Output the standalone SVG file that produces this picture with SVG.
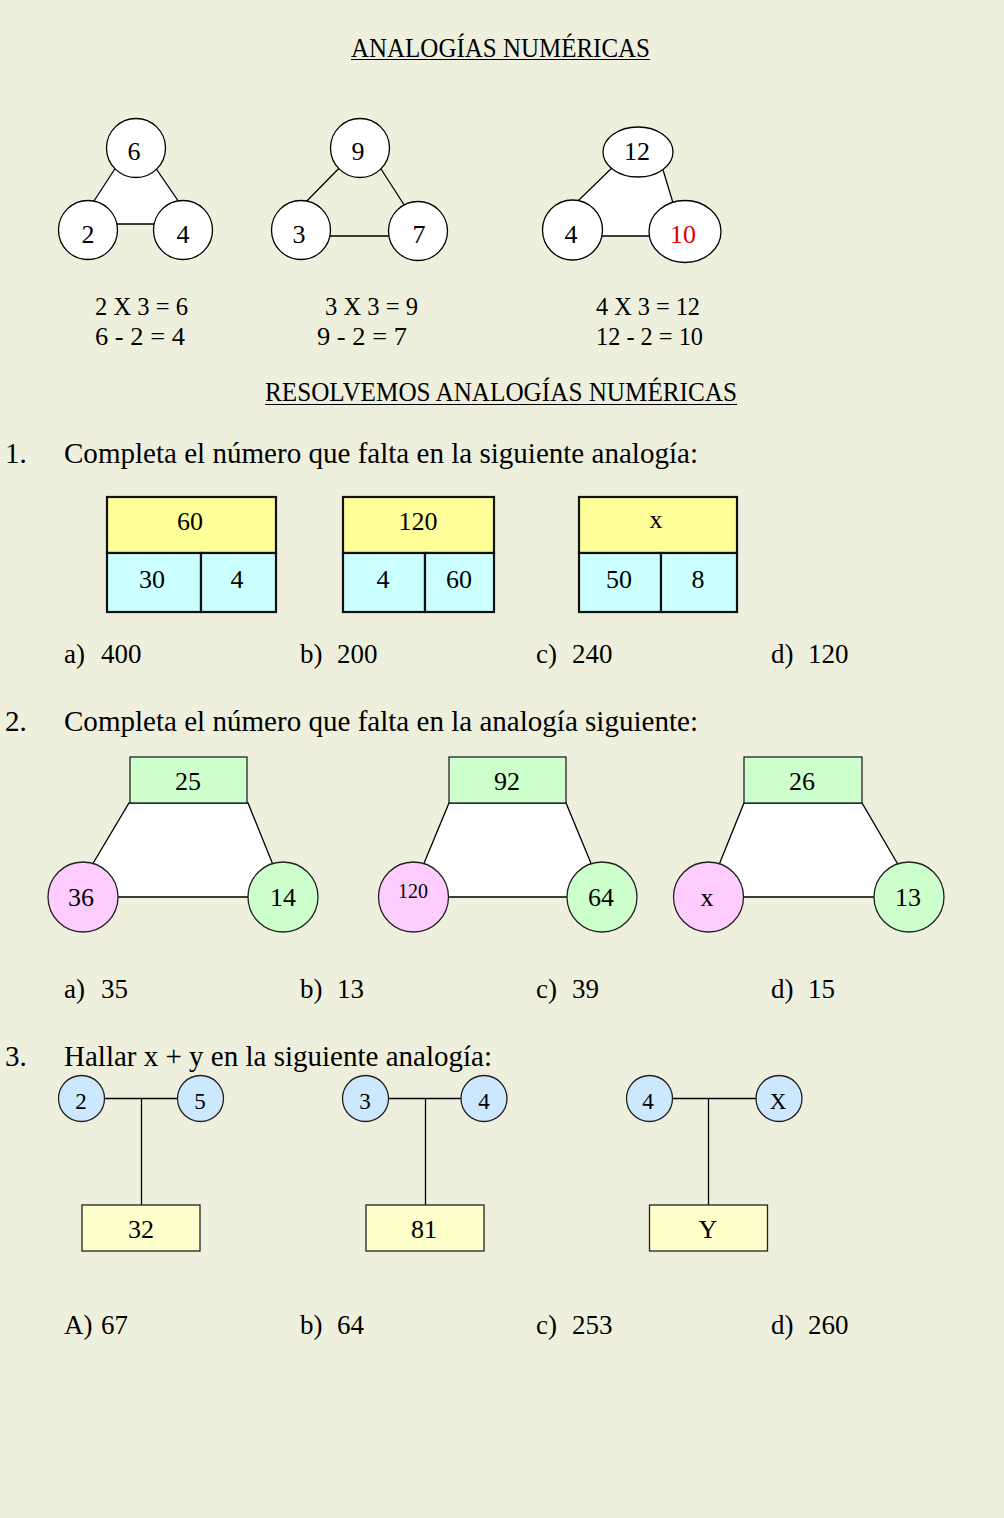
<svg xmlns="http://www.w3.org/2000/svg" width="1004" height="1518" viewBox="0 0 1004 1518">
<style>
text{font-family:"Liberation Serif","Times New Roman",serif;fill:#000}
.t{font-size:27px}
.e{font-size:25px}
.n{font-size:26px;text-anchor:middle}
.m{font-size:26px;text-anchor:middle}
.s{font-size:23px;text-anchor:middle}
.q{font-size:29px}
.o{font-size:27px}
.ln{stroke:#000;stroke-width:1.3;fill:none}
.wf{fill:#fff;stroke:#000;stroke-width:1.3}
.wc{fill:#fff;stroke:#000;stroke-width:1.3}
.yb{fill:#FFFF99;stroke:#111;stroke-width:2.2}
.cb{fill:#CCFFFF;stroke:#111;stroke-width:2.2}
.gr{fill:#CCFFCC;stroke:#222;stroke-width:1.3}
.pk{fill:#FFCCFF;stroke:#222;stroke-width:1.3}
.bc{fill:#CCE8FF;stroke:#222;stroke-width:1.3}
.ly{fill:#FFFFCC;stroke:#222;stroke-width:1.3}
.ul{stroke:#000;stroke-width:1.2}
</style>
<rect width="1004" height="1518" fill="#EEF0DD"/>

<g id="titles">
<text class="t" x="351" y="56.5" textLength="299" lengthAdjust="spacingAndGlyphs">ANALOGÍAS NUMÉRICAS</text>
<line class="ul" x1="351" y1="59.5" x2="650" y2="59.5"/>
<text class="t" x="265" y="401" textLength="472" lengthAdjust="spacingAndGlyphs">RESOLVEMOS ANALOGÍAS NUMÉRICAS</text>
<line class="ul" x1="265" y1="404.5" x2="737" y2="404.5"/>
</g>

<g id="connectors">
<polygon class="wf" points="135,138 79,224 194,224"/>
<line class="ln" x1="350" y1="157" x2="300" y2="208"/>
<line class="ln" x1="372" y1="155" x2="410" y2="214"/>
<line class="ln" x1="301" y1="236" x2="418" y2="236"/>
<polygon class="wf" points="651,130 548,230 560,236 683,236"/>
<polygon class="wf" points="129,803 248,803 286,897 73,897"/>
<polygon class="wf" points="449,803 566,803 605,897 410,897"/>
<polygon class="wf" points="744,803 862,803 917,897 706,897"/>
<line class="ln" x1="81" y1="1098.5" x2="201" y2="1098.5"/>
<line class="ln" x1="141.5" y1="1098.5" x2="141.5" y2="1205"/>
<line class="ln" x1="366" y1="1098.5" x2="484" y2="1098.5"/>
<line class="ln" x1="425.5" y1="1098.5" x2="425.5" y2="1205"/>
<line class="ln" x1="649" y1="1098.5" x2="779" y2="1098.5"/>
<line class="ln" x1="708.5" y1="1098.5" x2="708.5" y2="1205"/>
</g>

<g id="tri1">
<g id="t1-top"><circle class="wc" cx="136" cy="148" r="29.5"/><text class="n" x="134" y="160">6</text></g>
<g id="t1-left"><circle class="wc" cx="88" cy="230" r="29.5"/><text class="n" x="88" y="243">2</text></g>
<g id="t1-right"><circle class="wc" cx="183" cy="230" r="29.5"/><text class="n" x="183" y="243">4</text></g>
</g>
<g id="tri2">
<g id="t2-top"><circle class="wc" cx="360" cy="148" r="29.5"/><text class="n" x="358" y="160">9</text></g>
<g id="t2-left"><circle class="wc" cx="301" cy="230" r="29.5"/><text class="n" x="299" y="243">3</text></g>
<g id="t2-right"><circle class="wc" cx="418" cy="231" r="29.5"/><text class="n" x="419" y="243">7</text></g>
</g>
<g id="tri3">
<g id="t3-top"><ellipse class="wc" cx="638" cy="152" rx="35" ry="25"/><text class="n" x="637" y="160">12</text></g>
<g id="t3-left"><circle class="wc" cx="572.5" cy="230" r="30"/><text class="n" x="571" y="243">4</text></g>
<g id="t3-right"><ellipse class="wc" cx="685" cy="231.5" rx="36" ry="31"/><text class="n" x="683" y="243" style="fill:#E00000">10</text></g>
</g>

<g id="equations" xml:space="preserve">
<text class="e" x="95" y="315" textLength="93" lengthAdjust="spacingAndGlyphs">2 X 3 = 6</text>
<text class="e" x="95" y="345" textLength="90" lengthAdjust="spacingAndGlyphs">6 - 2 =  4</text>
<text class="e" x="325" y="315" textLength="93" lengthAdjust="spacingAndGlyphs">3 X 3 = 9</text>
<text class="e" x="317" y="345" textLength="90" lengthAdjust="spacingAndGlyphs">9 - 2 =  7</text>
<text class="e" x="596" y="315" textLength="104" lengthAdjust="spacingAndGlyphs">4 X 3 = 12</text>
<text class="e" x="596" y="345" textLength="107" lengthAdjust="spacingAndGlyphs">12 - 2 = 10</text>
</g>

<g id="q1">
<text class="q" x="5" y="463">1.</text>
<text class="q" x="64" y="463" textLength="634" lengthAdjust="spacingAndGlyphs">Completa el número que falta en la siguiente analogía:</text>
</g>
<g id="box1">
<rect class="yb" x="107" y="497" width="169" height="56"/>
<rect class="cb" x="107" y="553" width="94" height="59"/>
<rect class="cb" x="201" y="553" width="75" height="59"/>
<text class="m" x="190" y="530">60</text>
<text class="m" x="152" y="588">30</text>
<text class="m" x="237" y="588">4</text>
</g>
<g id="box2">
<rect class="yb" x="343" y="497" width="151" height="56"/>
<rect class="cb" x="343" y="553" width="82" height="59"/>
<rect class="cb" x="425" y="553" width="69" height="59"/>
<text class="m" x="418" y="530">120</text>
<text class="m" x="383" y="588">4</text>
<text class="m" x="459" y="588">60</text>
</g>
<g id="box3">
<rect class="yb" x="579" y="497" width="158" height="56"/>
<rect class="cb" x="579" y="553" width="82" height="59"/>
<rect class="cb" x="661" y="553" width="76" height="59"/>
<text class="m" x="656" y="528">x</text>
<text class="m" x="619" y="588">50</text>
<text class="m" x="698" y="588">8</text>
</g>
<g id="opts1">
<text class="o" x="64" y="663">a)<tspan x="101">400</tspan></text>
<text class="o" x="300" y="663">b)<tspan x="337">200</tspan></text>
<text class="o" x="536" y="663">c)<tspan x="572">240</tspan></text>
<text class="o" x="771" y="663">d)<tspan x="808">120</tspan></text>
</g>

<g id="q2">
<text class="q" x="5" y="731">2.</text>
<text class="q" x="64" y="731" textLength="634" lengthAdjust="spacingAndGlyphs">Completa el número que falta en la analogía siguiente:</text>
</g>
<g id="trap1">
<rect class="gr" x="130" y="757" width="117" height="46"/><text class="m" x="188" y="790">25</text>
<circle class="pk" cx="83" cy="897" r="35"/><text class="m" x="81" y="906">36</text>
<circle class="gr" cx="283" cy="897" r="35"/><text class="m" x="283" y="906">14</text>
</g>
<g id="trap2">
<rect class="gr" x="449" y="757" width="117" height="46"/><text class="m" x="507" y="790">92</text>
<circle class="pk" cx="413.5" cy="897" r="35"/><text class="s" x="413" y="898" style="font-size:20px">120</text>
<circle class="gr" cx="602" cy="897" r="35"/><text class="m" x="601" y="906">64</text>
</g>
<g id="trap3">
<rect class="gr" x="744" y="757" width="118" height="46"/><text class="m" x="802" y="790">26</text>
<circle class="pk" cx="708.5" cy="897" r="35"/><text class="m" x="707" y="906">x</text>
<circle class="gr" cx="909" cy="897" r="35"/><text class="m" x="908" y="906">13</text>
</g>
<g id="opts2">
<text class="o" x="64" y="998">a)<tspan x="101">35</tspan></text>
<text class="o" x="300" y="998">b)<tspan x="337">13</tspan></text>
<text class="o" x="536" y="998">c)<tspan x="572">39</tspan></text>
<text class="o" x="771" y="998">d)<tspan x="808">15</tspan></text>
</g>

<g id="q3">
<text class="q" x="5" y="1066">3.</text>
<text class="q" x="64" y="1066" textLength="428" lengthAdjust="spacingAndGlyphs">Hallar x + y en la siguiente analogía:</text>
</g>
<g id="tee1">
<circle class="bc" cx="81.5" cy="1098.5" r="23"/><text class="s" x="81" y="1109">2</text>
<circle class="bc" cx="200.5" cy="1098.5" r="23"/><text class="s" x="200" y="1109">5</text>
<rect class="ly" x="82" y="1205" width="118" height="46"/><text class="m" x="141" y="1238">32</text>
</g>
<g id="tee2">
<circle class="bc" cx="365.5" cy="1098.5" r="23"/><text class="s" x="365" y="1109">3</text>
<circle class="bc" cx="484" cy="1098.5" r="23"/><text class="s" x="484" y="1109">4</text>
<rect class="ly" x="366" y="1205" width="118" height="46"/><text class="m" x="424" y="1238">81</text>
</g>
<g id="tee3">
<circle class="bc" cx="649.5" cy="1098.5" r="23"/><text class="s" x="648" y="1109">4</text>
<circle class="bc" cx="779" cy="1098.5" r="23"/><text class="s" x="778" y="1109">X</text>
<rect class="ly" x="649.5" y="1205" width="118" height="46"/><text class="m" x="708" y="1238">Y</text>
</g>
<g id="opts3">
<text class="o" x="64" y="1334">A)<tspan x="101">67</tspan></text>
<text class="o" x="300" y="1334">b)<tspan x="337">64</tspan></text>
<text class="o" x="536" y="1334">c)<tspan x="572">253</tspan></text>
<text class="o" x="771" y="1334">d)<tspan x="808">260</tspan></text>
</g>
</svg>
